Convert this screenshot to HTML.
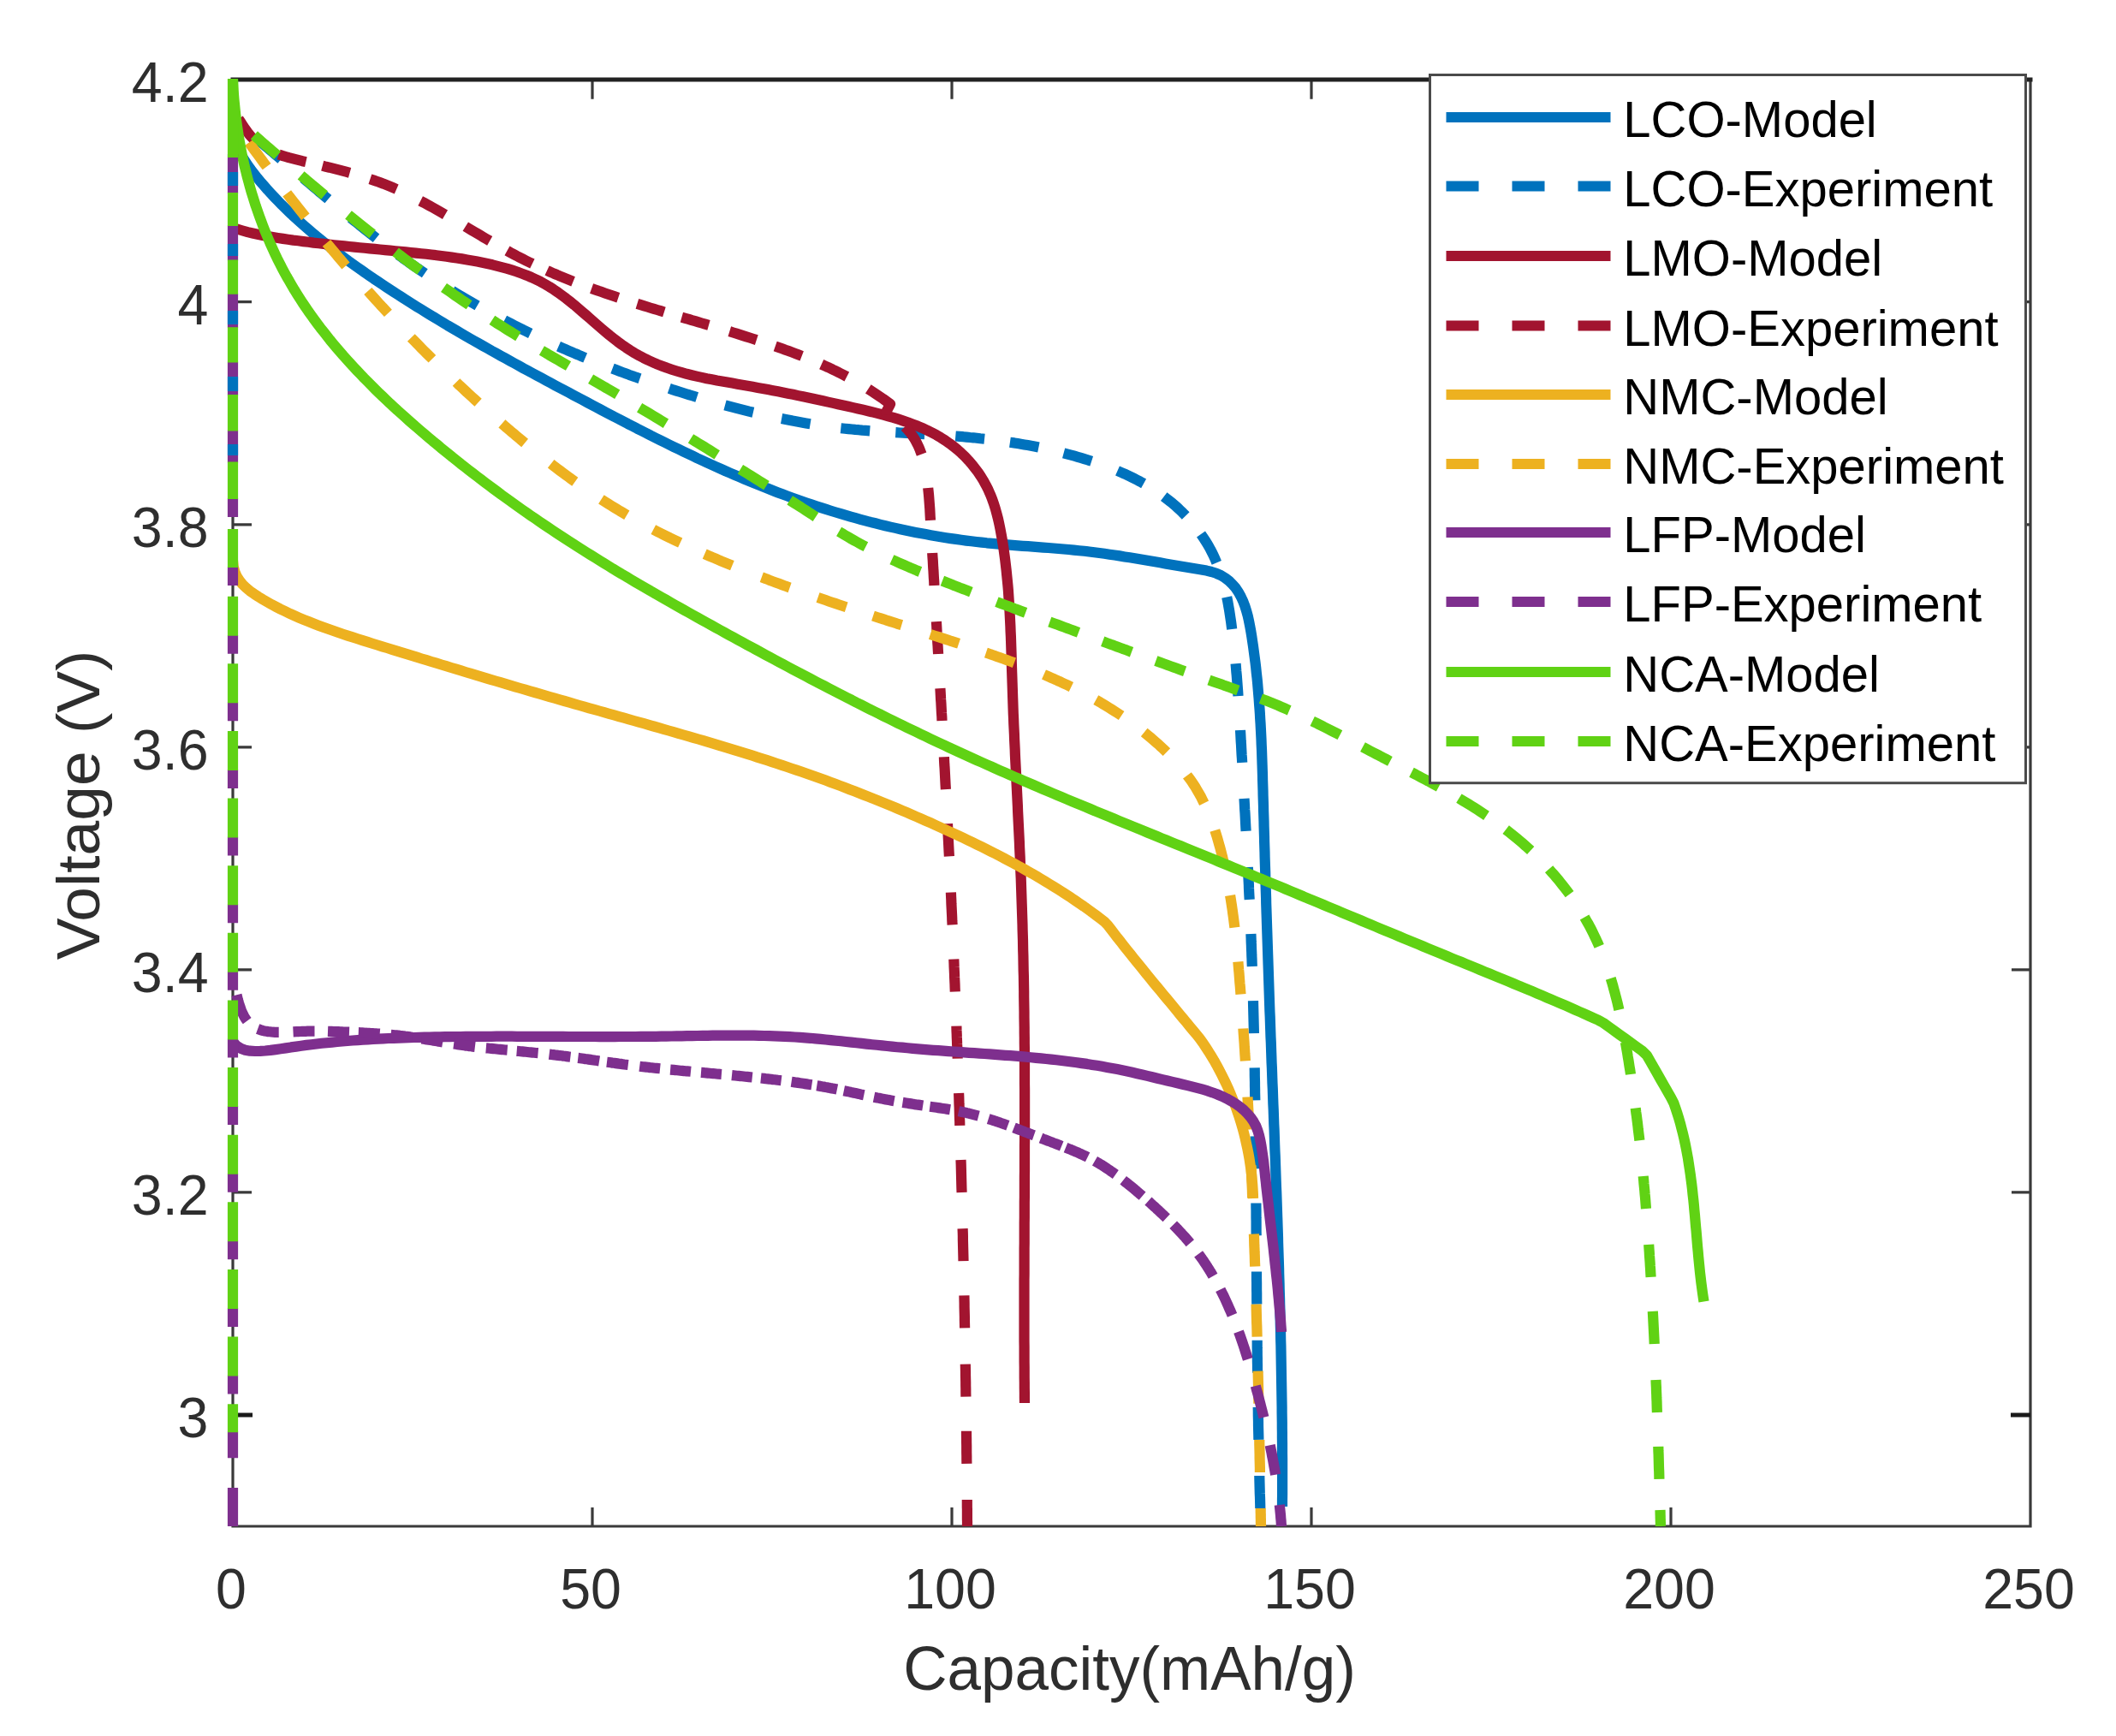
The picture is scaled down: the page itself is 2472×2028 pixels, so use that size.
<!DOCTYPE html>
<html lang="en">
<head>
<meta charset="utf-8">
<title>Discharge curves: model vs experiment</title>
<style>
html,body{margin:0;padding:0;background:#fff;}
body{width:2472px;height:2028px;overflow:hidden;}
svg{display:block;}
text{font-family:'Liberation Sans', Arial, Helvetica, sans-serif;}
.tk{font-size:64.5px;fill:#2e2e2e;}
.lb{font-size:71px;fill:#2e2e2e;}
.lg{font-size:58px;fill:#000;}
.c{fill:none;stroke-width:12.2;stroke-linejoin:round;stroke-linecap:butt;}
</style>
</head>
<body>
<svg width="2472" height="2028" viewBox="0 0 2472 2028">
<rect x="0" y="0" width="2472" height="2028" fill="#ffffff"/>
<g stroke="#3a3a3a" stroke-width="3.2" fill="none" stroke-linecap="square">
<path d="M272.0 92.7V1783.0H2372.0V92.7"/>
<path stroke-linecap="butt" d="M692.0 1783.0v-22M692.0 92.7v23M1112.0 1783.0v-22M1112.0 92.7v23M1532.0 1783.0v-22M1532.0 92.7v23M1952.0 1783.0v-22M1952.0 92.7v23M272.0 1392.9h22M2372.0 1392.9h-22M272.0 1132.9h22M2372.0 1132.9h-22M272.0 872.8h22M2372.0 872.8h-22M272.0 612.8h22M2372.0 612.8h-22M272.0 352.7h22M2372.0 352.7h-22"/>
<path stroke="#222222" stroke-width="5" d="M272.0 93.0H2372.0"/>
<path stroke="#1a1a1a" stroke-width="4.8" stroke-linecap="butt" d="M272.0 1653.0h23M2372.0 1653.0h-23"/>
</g>
<g class="tk" text-anchor="middle">
<text transform="translate(270.0 1878.8) scale(1 1.03)">0</text>
<text transform="translate(690.0 1878.8) scale(1 1.03)">50</text>
<text transform="translate(1110.0 1878.8) scale(1 1.03)">100</text>
<text transform="translate(1530.0 1878.8) scale(1 1.03)">150</text>
<text transform="translate(1950.0 1878.8) scale(1 1.03)">200</text>
<text transform="translate(2370.0 1878.8) scale(1 1.03)">250</text>
</g>
<g class="tk" text-anchor="end">
<text transform="translate(243.5 1679.3) scale(1 1.03)">3</text>
<text transform="translate(243.5 1419.2) scale(1 1.03)">3.2</text>
<text transform="translate(243.5 1159.2) scale(1 1.03)">3.4</text>
<text transform="translate(243.5 899.1) scale(1 1.03)">3.6</text>
<text transform="translate(243.5 639.1) scale(1 1.03)">3.8</text>
<text transform="translate(243.5 379.0) scale(1 1.03)">4</text>
<text transform="translate(243.5 119.0) scale(1 1.03)">4.2</text>
</g>
<text class="lb" text-anchor="middle" transform="translate(1319.5 1973.5) scale(1 1.03)">Capacity(mAh/g)</text>
<text class="lb" text-anchor="middle" transform="translate(115.5 940.5) rotate(-90) scale(1.03 1)">Voltage (V)</text>
<clipPath id="ax"><rect x="259.8" y="90.7" width="2112.2" height="1692.3"/></clipPath>
<g clip-path="url(#ax)">
<path class="c" stroke="#0072BD" d="M272.0 150.0L272.5 156.2L273.6 162.2L275.4 167.8L277.6 173.3L280.3 178.5L283.3 183.6L286.5 188.6L289.8 193.6L293.3 198.4L297.0 203.2L300.7 207.9L304.6 212.6L308.5 217.1L312.5 221.7L316.6 226.1L320.7 230.5L324.9 234.9L329.1 239.2L333.4 243.4L337.7 247.6L342.0 251.7L346.5 255.8L350.9 259.8L355.4 263.8L359.9 267.7L364.5 271.6L369.1 275.5L373.8 279.3L378.4 283.0L383.2 286.8L387.9 290.4L392.7 294.1L397.5 297.7L402.3 301.3L407.1 304.9L412.0 308.4L416.9 311.9L421.8 315.3L426.7 318.8L431.7 322.2L436.6 325.6L441.6 328.9L446.6 332.3L451.6 335.6L456.6 338.9L461.6 342.2L466.7 345.4L471.7 348.7L476.8 351.9L481.9 355.1L487.0 358.3L492.1 361.4L497.2 364.6L502.3 367.7L507.4 370.8L512.5 373.9L517.7 377.0L522.8 380.1L528.0 383.1L533.2 386.1L538.4 389.2L543.5 392.2L548.7 395.2L554.0 398.2L559.2 401.1L564.4 404.1L569.6 407.0L574.8 410.0L580.1 412.9L585.3 415.8L590.6 418.7L595.8 421.6L601.1 424.5L606.4 427.4L611.6 430.3L616.9 433.1L622.2 436.0L627.5 438.9L632.8 441.7L638.1 444.6L643.4 447.4L648.7 450.3L654.0 453.1L659.3 455.9L664.6 458.7L669.9 461.6L675.2 464.4L680.5 467.2L685.8 470.0L691.1 472.9L696.4 475.7L701.8 478.5L707.1 481.3L712.4 484.1L717.7 486.9L723.1 489.6L728.4 492.4L733.7 495.2L739.1 497.9L744.4 500.7L749.8 503.4L755.2 506.1L760.5 508.9L765.9 511.6L771.3 514.2L776.7 516.9L782.1 519.6L787.4 522.2L792.9 524.8L798.3 527.4L803.7 530.0L809.1 532.6L814.5 535.2L820.0 537.7L825.4 540.2L830.9 542.7L836.4 545.2L841.8 547.6L847.3 550.1L852.8 552.5L858.3 554.9L863.8 557.2L869.4 559.6L874.9 561.9L880.4 564.2L886.0 566.4L891.6 568.6L897.2 570.8L902.7 573.0L908.3 575.2L914.0 577.3L919.6 579.4L925.2 581.4L930.9 583.4L936.5 585.4L942.2 587.4L947.9 589.3L953.6 591.2L959.3 593.1L965.0 594.9L970.7 596.7L976.5 598.5L982.2 600.2L988.0 601.9L993.8 603.6L999.5 605.2L1005.3 606.8L1011.1 608.3L1016.9 609.9L1022.7 611.3L1028.6 612.8L1034.4 614.2L1040.2 615.6L1046.1 616.9L1051.9 618.2L1057.8 619.5L1063.7 620.7L1069.6 621.9L1075.5 623.0L1081.4 624.1L1087.3 625.2L1093.2 626.2L1099.1 627.2L1105.1 628.2L1111.0 629.1L1116.9 629.9L1122.9 630.8L1128.9 631.6L1134.8 632.3L1140.8 633.0L1146.8 633.6L1152.8 634.3L1158.8 634.8L1164.8 635.4L1170.8 635.9L1176.8 636.4L1182.8 636.9L1188.8 637.3L1194.8 637.8L1200.8 638.2L1206.8 638.7L1212.8 639.1L1218.8 639.6L1224.8 640.0L1230.8 640.5L1236.8 641.0L1242.7 641.5L1248.7 642.0L1254.7 642.6L1260.6 643.2L1266.6 643.8L1272.5 644.5L1278.5 645.3L1284.4 646.0L1290.3 646.8L1296.2 647.7L1302.1 648.5L1308.0 649.4L1313.9 650.4L1319.8 651.3L1325.8 652.3L1331.7 653.3L1337.6 654.3L1343.5 655.3L1349.5 656.3L1355.4 657.3L1361.4 658.4L1367.3 659.4L1373.3 660.4L1379.3 661.4L1385.4 662.4L1391.4 663.4L1397.5 664.4L1403.5 665.4L1409.5 666.6L1415.3 668.0L1421.0 669.8L1426.3 672.1L1431.2 675.1L1435.8 678.6L1439.9 682.7L1443.7 687.1L1446.9 691.9L1449.7 697.0L1452.2 702.3L1454.3 707.9L1456.1 713.6L1457.7 719.4L1459.0 725.3L1460.2 731.4L1461.3 737.4L1462.3 743.5L1463.2 749.6L1464.1 755.7L1464.9 761.7L1465.7 767.8L1466.5 773.8L1467.2 779.8L1467.8 785.9L1468.5 791.9L1469.1 797.9L1469.6 803.9L1470.1 809.9L1470.6 815.9L1471.0 821.9L1471.5 827.9L1471.9 833.9L1472.2 839.8L1472.6 845.8L1472.9 851.8L1473.2 857.8L1473.5 863.7L1473.7 869.7L1474.0 875.7L1474.2 881.6L1474.4 887.6L1474.6 893.5L1474.8 899.5L1475.0 905.5L1475.1 911.4L1475.3 917.4L1475.5 923.4L1475.6 929.4L1475.8 935.3L1476.0 941.3L1476.1 947.3L1476.3 953.3L1476.5 959.3L1476.6 965.2L1476.8 971.2L1477.0 977.2L1477.1 983.2L1477.3 989.2L1477.5 995.2L1477.6 1001.2L1477.8 1007.2L1478.0 1013.2L1478.2 1019.2L1478.3 1025.2L1478.5 1031.3L1478.7 1037.3L1478.9 1043.3L1479.1 1049.3L1479.2 1055.3L1479.4 1061.3L1479.6 1067.3L1479.8 1073.4L1480.0 1079.4L1480.2 1085.4L1480.4 1091.4L1480.6 1097.4L1480.8 1103.4L1481.0 1109.5L1481.2 1115.5L1481.4 1121.5L1481.6 1127.5L1481.8 1133.5L1482.0 1139.5L1482.2 1145.6L1482.4 1151.6L1482.6 1157.6L1482.8 1163.6L1483.0 1169.6L1483.2 1175.6L1483.4 1181.6L1483.7 1187.6L1483.9 1193.7L1484.1 1199.7L1484.3 1205.7L1484.5 1211.7L1484.8 1217.7L1485.0 1223.7L1485.2 1229.7L1485.4 1235.7L1485.6 1241.7L1485.9 1247.7L1486.1 1253.7L1486.3 1259.7L1486.5 1265.7L1486.8 1271.7L1487.0 1277.7L1487.2 1283.7L1487.4 1289.7L1487.7 1295.7L1487.9 1301.7L1488.1 1307.7L1488.3 1313.7L1488.6 1319.7L1488.8 1325.7L1489.0 1331.7L1489.2 1337.7L1489.4 1343.7L1489.7 1349.7L1489.9 1355.7L1490.1 1361.7L1490.3 1367.7L1490.5 1373.7L1490.7 1379.7L1490.9 1385.7L1491.2 1391.7L1491.4 1397.7L1491.6 1403.7L1491.8 1409.7L1492.0 1415.7L1492.2 1421.7L1492.4 1427.7L1492.6 1433.7L1492.8 1439.7L1493.0 1445.7L1493.1 1451.7L1493.3 1457.7L1493.5 1463.7L1493.7 1469.7L1493.9 1475.7L1494.1 1481.7L1494.2 1487.7L1494.4 1493.7L1494.6 1499.7L1494.7 1505.7L1494.9 1511.7L1495.1 1517.7L1495.2 1523.7L1495.4 1529.7L1495.5 1535.7L1495.7 1541.7L1495.8 1547.7L1496.0 1553.7L1496.1 1559.7L1496.2 1565.7L1496.4 1571.7L1496.5 1577.7L1496.6 1583.7L1496.7 1589.7L1496.8 1595.7L1496.9 1601.7L1497.0 1607.7L1497.1 1613.7L1497.2 1619.7L1497.3 1625.7L1497.4 1631.8L1497.5 1637.8L1497.6 1643.8L1497.6 1649.8L1497.7 1655.8L1497.8 1661.8L1497.8 1667.8L1497.9 1673.8L1497.9 1679.8L1498.0 1685.8L1498.0 1691.8L1498.0 1697.8L1498.1 1703.9L1498.1 1709.9L1498.1 1715.9L1498.1 1721.9L1498.1 1727.9L1498.1 1733.9L1498.1 1739.9L1498.1 1746.0L1498.0 1752.0L1498.0 1758.0L1498.0 1760.0"/>
<path class="c" stroke="#0072BD" stroke-width="11.4" d="M299.4 161.6L303.2 164.8L306.3 167.4L309.3 170.0L312.4 172.5L315.4 175.1L318.5 177.7L321.5 180.2L324.6 182.8L328.4 186.1M354.4 208.1L358.1 211.3L361.2 213.9L364.3 216.5L367.3 219.1L370.4 221.7L373.4 224.3L376.5 226.9L379.6 229.4L383.4 232.6M409.7 254.5L413.6 257.6L416.7 260.1L419.8 262.7L423.0 265.2L426.1 267.7L429.3 270.2L432.4 272.6L435.6 275.1L439.5 278.2M465.2 297.5L469.2 300.4L472.4 302.8L475.7 305.1L479.0 307.4L482.3 309.7L485.5 312.0L488.8 314.2L492.2 316.5L496.3 319.3M528.3 339.8L532.6 342.4L536.0 344.4L539.5 346.5L542.9 348.5L546.4 350.5L549.8 352.5L553.3 354.5L557.6 357.0M589.3 374.2L593.7 376.5L597.3 378.3L600.9 380.1L604.4 381.9L608.0 383.7L611.6 385.5L615.2 387.2L619.7 389.4M652.5 404.6L657.0 406.6L660.7 408.2L664.4 409.8L668.1 411.4L671.8 413.0L675.5 414.5L679.2 416.1L683.7 418.0M715.5 430.5L720.2 432.3L723.9 433.7L727.7 435.1L731.5 436.5L735.2 437.9L739.0 439.2L742.8 440.6L747.5 442.2M781.8 453.8L786.5 455.4L790.3 456.6L794.1 457.8L798.0 459.0L801.8 460.2L805.6 461.4L809.5 462.5L814.2 464.0M847.0 473.3L851.8 474.6L855.7 475.6L859.5 476.6L863.4 477.6L867.3 478.6L871.2 479.6L875.1 480.6L879.9 481.7M913.1 489.1L918.0 490.0L922.0 490.8L925.9 491.6L929.8 492.3L933.8 493.0L937.7 493.7L941.7 494.4L946.6 495.2M982.3 500.2L987.3 500.7L991.3 501.1L995.3 501.5L999.2 501.9L1003.2 502.2L1007.2 502.6L1011.2 502.9L1016.2 503.3M1046.3 505.2L1051.2 505.5L1055.2 505.7L1059.2 506.0L1063.2 506.2L1067.2 506.4L1071.2 506.6L1075.2 506.8L1080.2 507.1M1116.3 509.5L1121.2 509.9L1125.2 510.2L1129.2 510.6L1133.2 511.0L1137.2 511.3L1141.2 511.7L1145.2 512.2L1150.1 512.7M1179.9 516.7L1184.8 517.4L1188.8 518.1L1192.7 518.7L1196.7 519.4L1200.6 520.1L1204.5 520.8L1208.5 521.6L1213.4 522.6M1242.6 529.3L1247.4 530.6L1251.3 531.6L1255.2 532.7L1259.0 533.8L1262.8 534.9L1266.7 536.1L1270.5 537.3L1275.2 538.8M1305.5 550.0L1310.1 552.0L1313.8 553.6L1317.4 555.3L1321.0 557.0L1324.6 558.8L1328.2 560.6L1331.8 562.5L1336.1 564.9M1359.7 580.1L1363.6 583.1L1366.8 585.6L1369.9 588.1L1372.9 590.7L1375.9 593.4L1378.8 596.1L1381.7 598.9L1385.2 602.5M1403.0 624.1L1405.9 628.2L1408.1 631.6L1410.2 635.0L1412.2 638.4L1414.1 641.9L1415.9 645.4L1417.7 649.0L1419.3 652.6L1421.3 657.3M1433.2 697.6L1434.2 702.3L1434.9 706.3L1435.6 710.3L1436.3 714.3L1436.9 718.3L1437.5 722.3L1438.1 726.3L1438.6 730.3L1439.2 735.1M1443.6 775.3L1444.0 780.3L1444.3 784.3L1444.7 788.3L1445.0 792.3L1445.3 796.3L1445.6 800.3L1445.9 804.2L1446.2 808.2L1446.5 813.2M1449.0 853.0L1449.3 858.0L1449.5 862.0L1449.7 866.0L1450.0 870.0L1450.2 874.0L1450.4 878.0L1450.6 881.9L1450.9 885.9L1451.2 890.9M1453.5 932.9L1453.8 937.9L1454.0 941.9L1454.2 945.9L1454.5 949.9L1454.7 953.9L1454.9 957.9L1455.1 961.9L1455.3 965.9L1455.6 970.8M1457.8 1013.0L1458.1 1017.9L1458.3 1021.9L1458.5 1025.9L1458.7 1029.9L1458.9 1033.9L1459.0 1038.0L1459.2 1042.0L1459.4 1046.0L1459.7 1050.9M1461.4 1091.1L1461.6 1096.1L1461.7 1100.1L1461.9 1104.1L1462.0 1108.1L1462.2 1112.1L1462.3 1116.1L1462.5 1120.1L1462.6 1124.1L1462.8 1129.1M1464.0 1169.2L1464.1 1174.2L1464.2 1178.2L1464.3 1182.2L1464.4 1186.2L1464.5 1190.2L1464.6 1194.2L1464.7 1198.2L1464.8 1202.2L1464.9 1207.2M1465.7 1247.3L1465.8 1252.3L1465.8 1256.3L1465.9 1260.3L1466.0 1264.3L1466.0 1268.3L1466.1 1272.3L1466.1 1276.3L1466.2 1280.3L1466.3 1285.3M1466.7 1327.3L1466.8 1332.3L1466.8 1336.3L1466.9 1340.3L1466.9 1344.3L1467.0 1348.3L1467.0 1352.3L1467.0 1356.3L1467.1 1360.4L1467.1 1365.3M1467.4 1405.4L1467.4 1410.4L1467.5 1414.4L1467.5 1418.4L1467.5 1422.4L1467.6 1426.4L1467.6 1430.4L1467.6 1434.4L1467.6 1438.4L1467.7 1443.4M1468.0 1485.6L1468.0 1490.5L1468.0 1494.5L1468.1 1498.6L1468.1 1502.6L1468.1 1506.6L1468.2 1510.6L1468.2 1514.6L1468.2 1518.6L1468.3 1523.6M1468.7 1565.7L1468.7 1570.7L1468.7 1574.7L1468.8 1578.7L1468.8 1582.7L1468.9 1586.7L1468.9 1590.7L1469.0 1594.7L1469.0 1598.7L1469.1 1603.7M1469.7 1643.9L1469.8 1648.8L1469.8 1652.8L1469.9 1656.9L1470.0 1660.9L1470.0 1664.9L1470.1 1668.9L1470.2 1672.9L1470.3 1676.9L1470.4 1681.9M1471.3 1724.0L1471.4 1729.0L1471.5 1733.0L1471.6 1737.0L1471.7 1741.0L1471.8 1745.0L1472.0 1749.0L1472.1 1753.0L1472.2 1757.0L1472.3 1762.0"/>
<path class="c" stroke="#A2142F" d="M272.0 266.0L277.7 267.8L283.5 269.5L289.3 271.1L295.2 272.5L301.0 273.8L306.9 275.0L312.8 276.1L318.7 277.1L324.7 278.0L330.6 278.9L336.5 279.7L342.5 280.6L348.4 281.3L354.4 282.1L360.3 282.8L366.3 283.6L372.3 284.2L378.2 284.9L384.2 285.6L390.1 286.2L396.1 286.8L402.1 287.4L408.0 288.0L414.0 288.6L420.0 289.2L426.0 289.8L431.9 290.4L437.9 290.9L443.9 291.5L449.9 292.1L455.9 292.6L461.9 293.2L467.9 293.8L473.9 294.4L479.9 295.0L485.9 295.6L491.9 296.2L497.9 296.8L503.9 297.5L509.9 298.2L515.9 299.0L521.9 299.7L527.8 300.6L533.8 301.5L539.8 302.4L545.7 303.4L551.7 304.4L557.6 305.5L563.5 306.7L569.4 308.0L575.3 309.3L581.1 310.8L586.9 312.3L592.7 313.9L598.5 315.7L604.1 317.5L609.8 319.6L615.3 321.7L620.8 324.0L626.2 326.5L631.5 329.1L636.7 332.0L641.8 335.0L646.8 338.2L651.8 341.6L656.6 345.1L661.4 348.7L666.1 352.4L670.8 356.2L675.4 360.1L680.0 364.1L684.6 368.0L689.2 372.0L693.7 376.0L698.3 380.0L702.9 384.0L707.5 387.9L712.2 391.8L716.9 395.5L721.7 399.2L726.5 402.7L731.4 406.1L736.4 409.4L741.4 412.5L746.6 415.4L751.9 418.2L757.2 420.8L762.6 423.2L768.1 425.6L773.7 427.7L779.3 429.8L784.9 431.7L790.6 433.5L796.4 435.2L802.2 436.8L808.1 438.2L813.9 439.6L819.8 440.9L825.7 442.2L831.7 443.3L837.6 444.5L843.6 445.5L849.6 446.6L855.5 447.6L861.5 448.7L867.5 449.7L873.4 450.7L879.3 451.8L885.3 452.9L891.2 453.9L897.1 455.1L903.0 456.2L908.9 457.3L914.7 458.5L920.6 459.7L926.5 460.8L932.3 462.1L938.2 463.3L944.0 464.5L949.9 465.8L955.7 467.0L961.5 468.3L967.4 469.6L973.2 470.9L979.1 472.2L985.0 473.5L990.8 474.8L996.7 476.1L1002.6 477.5L1008.5 478.8L1014.4 480.2L1020.3 481.7L1026.1 483.1L1032.0 484.7L1037.9 486.3L1043.7 487.9L1049.5 489.7L1055.2 491.6L1060.9 493.5L1066.6 495.6L1072.2 497.8L1077.8 500.2L1083.3 502.7L1088.7 505.4L1094.0 508.2L1099.2 511.3L1104.2 514.5L1109.1 517.9L1113.9 521.5L1118.5 525.3L1123.0 529.3L1127.3 533.4L1131.4 537.8L1135.3 542.2L1139.0 546.9L1142.6 551.6L1145.9 556.6L1149.0 561.6L1151.8 566.8L1154.5 572.1L1156.9 577.6L1159.1 583.1L1161.1 588.7L1162.9 594.5L1164.5 600.3L1166.0 606.1L1167.3 612.0L1168.5 617.9L1169.6 623.9L1170.7 629.9L1171.7 635.9L1172.6 641.8L1173.4 647.8L1174.2 653.8L1174.9 659.8L1175.6 665.8L1176.2 671.8L1176.8 677.8L1177.4 683.8L1177.9 689.8L1178.3 695.8L1178.7 701.8L1179.1 707.7L1179.5 713.7L1179.8 719.7L1180.1 725.7L1180.4 731.7L1180.6 737.7L1180.9 743.7L1181.1 749.7L1181.3 755.8L1181.5 761.8L1181.7 767.8L1181.8 773.8L1182.0 779.8L1182.2 785.8L1182.4 791.8L1182.6 797.8L1182.8 803.8L1183.0 809.8L1183.2 815.8L1183.4 821.8L1183.6 827.8L1183.8 833.8L1184.1 839.8L1184.3 845.8L1184.6 851.8L1184.9 857.8L1185.1 863.8L1185.4 869.8L1185.7 875.8L1185.9 881.8L1186.2 887.8L1186.5 893.8L1186.8 899.8L1187.1 905.8L1187.4 911.9L1187.7 917.9L1188.0 923.9L1188.3 929.9L1188.6 935.9L1188.9 941.9L1189.1 947.9L1189.4 953.9L1189.7 959.9L1190.0 965.9L1190.3 971.9L1190.6 977.9L1190.9 983.9L1191.1 989.9L1191.4 995.9L1191.7 1001.9L1191.9 1007.9L1192.2 1013.9L1192.4 1019.9L1192.7 1025.9L1192.9 1032.0L1193.1 1038.0L1193.3 1044.0L1193.5 1050.0L1193.7 1056.0L1193.9 1062.0L1194.1 1068.0L1194.3 1074.0L1194.5 1080.0L1194.6 1086.0L1194.8 1092.0L1195.0 1098.0L1195.1 1104.0L1195.2 1110.1L1195.4 1116.1L1195.5 1122.1L1195.6 1128.1L1195.7 1134.1L1195.9 1140.1L1196.0 1146.1L1196.1 1152.1L1196.2 1158.1L1196.2 1164.1L1196.3 1170.1L1196.4 1176.2L1196.5 1182.2L1196.5 1188.2L1196.6 1194.2L1196.7 1200.2L1196.7 1206.2L1196.8 1212.2L1196.8 1218.2L1196.9 1224.2L1196.9 1230.3L1196.9 1236.3L1197.0 1242.3L1197.0 1248.3L1197.0 1254.3L1197.0 1260.3L1197.0 1266.3L1197.1 1272.3L1197.1 1278.3L1197.1 1284.4L1197.1 1290.4L1197.1 1296.4L1197.1 1302.4L1197.1 1308.4L1197.1 1314.4L1197.1 1320.4L1197.1 1326.4L1197.1 1332.4L1197.0 1338.5L1197.0 1344.5L1197.0 1350.5L1197.0 1356.5L1197.0 1362.5L1197.0 1368.5L1196.9 1374.5L1196.9 1380.5L1196.9 1386.6L1196.9 1392.6L1196.9 1398.6L1196.8 1404.6L1196.8 1410.6L1196.8 1416.6L1196.8 1422.6L1196.7 1428.6L1196.7 1434.6L1196.7 1440.7L1196.7 1446.7L1196.7 1452.7L1196.6 1458.7L1196.6 1464.7L1196.6 1470.7L1196.6 1476.7L1196.6 1482.7L1196.6 1488.8L1196.5 1494.8L1196.5 1500.8L1196.5 1506.8L1196.5 1512.8L1196.5 1518.8L1196.5 1524.8L1196.5 1530.8L1196.5 1536.8L1196.5 1542.8L1196.5 1548.9L1196.5 1554.9L1196.5 1560.9L1196.5 1566.9L1196.6 1572.9L1196.6 1578.9L1196.6 1584.9L1196.6 1590.9L1196.7 1596.9L1196.7 1602.9L1196.7 1609.0L1196.8 1615.0L1196.8 1621.0L1196.9 1627.0L1196.9 1633.0L1197.0 1639.0L1197.0 1639.0"/>
<path class="c" stroke="#A2142F" stroke-width="11.6" d="M278.6 138.8L280.2 141.2L281.3 142.9L282.4 144.6L283.5 146.3L284.6 148.0L285.8 149.7L286.9 151.3L288.1 153.0L289.3 154.6L290.5 156.2L291.8 157.8L293.1 159.3L294.4 160.7L296.5 162.9M325.6 180.4L329.7 181.8L333.6 183.0L337.5 184.2L341.4 185.2L345.3 186.2L349.3 187.2L353.3 188.2L357.4 189.1M376.7 193.7L380.9 194.8L384.9 195.7L388.8 196.7L392.7 197.7L396.6 198.7L400.4 199.7L404.3 200.7L408.6 201.9M432.4 209.2L436.7 210.6L440.5 211.9L444.2 213.3L448.0 214.7L451.7 216.2L455.4 217.7L459.0 219.2L463.2 221.0M491.2 234.7L495.1 236.7L498.6 238.6L502.2 240.6L505.7 242.5L509.2 244.5L512.7 246.5L516.2 248.5L520.0 250.7M543.8 264.6L547.5 266.9L551.0 269.0L554.5 271.0L558.0 273.1L561.4 275.1L564.9 277.2L568.4 279.2L572.2 281.4M592.5 292.9L596.4 295.1L600.0 297.0L603.5 298.9L607.1 300.7L610.7 302.5L614.2 304.3L617.8 306.1L621.9 308.1M639.1 316.0L643.2 317.9L646.9 319.5L650.6 321.0L654.3 322.6L658.0 324.1L661.7 325.6L665.4 327.1L669.6 328.8M691.1 336.9L695.3 338.4L699.1 339.8L702.9 341.1L706.7 342.4L710.5 343.7L714.3 345.0L718.1 346.3L722.3 347.7M744.4 354.8L748.6 356.1L752.5 357.3L756.3 358.5L760.1 359.7L764.0 360.9L767.8 362.0L771.7 363.2L775.9 364.5M796.4 370.6L800.6 371.8L804.5 372.9L808.3 374.1L812.2 375.2L816.1 376.4L819.9 377.5L823.8 378.7L828.0 379.9M852.3 387.2L856.5 388.5L860.4 389.7L864.2 390.9L868.0 392.1L871.9 393.3L875.7 394.5L879.5 395.7L883.8 397.1M905.7 404.5L910.0 406.0L913.7 407.3L917.5 408.7L921.3 410.0L925.0 411.4L928.8 412.9L932.5 414.3L936.7 415.9M959.7 425.6L963.8 427.5L967.4 429.1L971.0 430.8L974.6 432.6L978.2 434.3L981.8 436.1L985.3 437.9L989.3 440.0M1014.3 454.4L1023.4 460.3L1031.8 466.0L1040.0 472.0L1038.8 474.5L1037.5 477.0L1036.2 479.5L1035.0 482.0L1035.3 484.5M1057.2 498.5L1060.8 502.3L1063.3 505.3L1065.6 508.5L1067.8 511.7L1069.8 515.1L1071.6 518.6L1073.3 522.1L1074.8 525.8L1076.6 530.7M1084.2 570.0L1084.7 574.9L1085.1 578.9L1085.4 582.9L1085.7 586.9L1086.0 590.9L1086.3 594.9L1086.5 598.9L1086.7 603.0L1087.0 607.9M1089.2 646.0L1089.5 651.0L1089.8 655.0L1090.0 659.0L1090.2 663.0L1090.5 667.0L1090.7 671.0L1090.9 675.0L1091.2 679.0L1091.4 684.0M1093.9 726.1L1094.2 731.0L1094.4 735.0L1094.6 739.1L1094.9 743.1L1095.1 747.1L1095.3 751.1L1095.6 755.1L1095.8 759.1L1096.1 764.0M1098.4 804.2L1098.7 809.1L1098.9 813.1L1099.1 817.1L1099.4 821.1L1099.6 825.1L1099.8 829.1L1100.0 833.1L1100.3 837.1L1100.5 842.1M1102.9 884.2L1103.1 889.2L1103.3 893.2L1103.6 897.2L1103.8 901.2L1104.0 905.2L1104.2 909.2L1104.4 913.2L1104.6 917.2L1104.9 922.2M1107.0 962.3L1107.2 967.3L1107.4 971.3L1107.6 975.3L1107.8 979.3L1108.0 983.3L1108.2 987.3L1108.4 991.3L1108.6 995.3L1108.9 1000.3M1110.9 1042.4L1111.1 1047.4L1111.3 1051.4L1111.4 1055.4L1111.6 1059.4L1111.8 1063.4L1112.0 1067.4L1112.2 1071.4L1112.3 1075.4L1112.6 1080.4M1114.3 1120.6L1114.5 1125.5L1114.6 1129.5L1114.8 1133.5L1115.0 1137.5L1115.1 1141.5L1115.3 1145.6L1115.5 1149.6L1115.6 1153.6L1115.8 1158.5M1117.4 1198.7L1117.5 1203.7L1117.7 1207.7L1117.8 1211.7L1118.0 1215.7L1118.1 1219.7L1118.3 1223.7L1118.4 1227.7L1118.6 1231.7L1118.7 1236.7M1120.1 1276.9L1120.3 1281.8L1120.4 1285.8L1120.5 1289.8L1120.7 1293.8L1120.8 1297.8L1120.9 1301.9L1121.0 1305.9L1121.2 1309.9L1121.3 1314.8M1122.5 1355.0L1122.7 1360.0L1122.8 1364.0L1122.9 1368.0L1123.0 1372.0L1123.1 1376.0L1123.2 1380.0L1123.3 1384.0L1123.4 1388.0L1123.6 1393.0M1124.6 1435.2L1124.8 1440.2L1124.9 1444.2L1124.9 1448.2L1125.0 1452.2L1125.1 1456.2L1125.2 1460.2L1125.3 1464.2L1125.4 1468.2L1125.5 1473.2M1126.4 1513.4L1126.5 1518.3L1126.6 1522.3L1126.6 1526.4L1126.7 1530.4L1126.8 1534.4L1126.9 1538.4L1126.9 1542.4L1127.0 1546.4L1127.1 1551.4M1127.8 1593.6L1127.9 1598.5L1128.0 1602.5L1128.0 1606.6L1128.1 1610.6L1128.2 1614.6L1128.2 1618.6L1128.3 1622.6L1128.3 1626.6L1128.4 1631.6M1129.0 1671.8L1129.0 1676.7L1129.1 1680.7L1129.1 1684.7L1129.2 1688.8L1129.2 1692.8L1129.2 1696.8L1129.3 1700.8L1129.3 1704.8L1129.4 1709.8M1129.8 1752.0L1129.8 1754.9L1129.8 1756.9L1129.8 1758.9L1129.8 1760.9L1129.9 1762.9L1129.9 1765.0L1129.9 1767.0L1129.9 1769.0L1129.9 1771.0L1129.9 1773.0L1129.9 1775.0L1130.0 1777.0L1130.0 1779.0L1130.0 1781.0L1130.0 1783.0"/>
<path class="c" stroke="#EDB120" d="M272.0 655.0L272.7 661.7L274.3 667.8L276.6 673.2L279.7 678.1L283.3 682.6L287.5 686.6L292.0 690.4L296.9 693.8L301.9 697.1L307.0 700.2L312.2 703.2L317.4 706.2L322.7 709.0L328.0 711.7L333.4 714.3L338.8 716.9L344.3 719.4L349.8 721.8L355.3 724.1L360.9 726.3L366.4 728.5L372.1 730.7L377.7 732.8L383.4 734.8L389.1 736.8L394.8 738.8L400.5 740.7L406.2 742.6L412.0 744.4L417.7 746.2L423.5 748.1L429.3 749.9L435.0 751.7L440.8 753.5L446.6 755.3L452.3 757.0L458.1 758.8L463.9 760.6L469.6 762.4L475.4 764.2L481.1 765.9L486.9 767.7L492.6 769.5L498.4 771.2L504.1 773.0L509.9 774.7L515.7 776.5L521.4 778.2L527.2 780.0L532.9 781.7L538.7 783.4L544.4 785.2L550.2 786.9L555.9 788.6L561.7 790.3L567.4 792.1L573.2 793.8L578.9 795.5L584.7 797.2L590.4 798.9L596.2 800.6L601.9 802.3L607.7 804.0L613.5 805.7L619.2 807.4L625.0 809.0L630.7 810.7L636.5 812.4L642.3 814.1L648.0 815.7L653.8 817.4L659.6 819.0L665.4 820.7L671.1 822.3L676.9 824.0L682.7 825.6L688.5 827.3L694.3 828.9L700.0 830.5L705.8 832.2L711.6 833.8L717.4 835.4L723.2 837.1L729.0 838.7L734.8 840.3L740.6 842.0L746.4 843.6L752.2 845.2L757.9 846.9L763.7 848.5L769.5 850.2L775.3 851.8L781.1 853.5L786.9 855.1L792.7 856.8L798.4 858.5L804.2 860.1L810.0 861.8L815.8 863.5L821.5 865.2L827.3 866.9L833.1 868.6L838.8 870.4L844.6 872.1L850.4 873.8L856.1 875.6L861.9 877.4L867.6 879.1L873.3 880.9L879.1 882.7L884.8 884.6L890.5 886.4L896.3 888.2L902.0 890.1L907.7 892.0L913.4 893.9L919.1 895.8L924.8 897.7L930.5 899.6L936.2 901.6L941.8 903.6L947.5 905.6L953.2 907.6L958.8 909.6L964.5 911.6L970.1 913.7L975.8 915.8L981.4 917.9L987.0 920.0L992.6 922.2L998.2 924.3L1003.8 926.5L1009.4 928.7L1015.0 930.9L1020.6 933.1L1026.2 935.4L1031.7 937.6L1037.3 939.9L1042.8 942.2L1048.4 944.5L1053.9 946.8L1059.5 949.2L1065.0 951.6L1070.5 954.0L1076.0 956.4L1081.5 958.8L1087.0 961.2L1092.5 963.7L1098.0 966.2L1103.4 968.7L1108.9 971.2L1114.4 973.7L1119.8 976.3L1125.2 978.8L1130.7 981.4L1136.1 984.0L1141.5 986.7L1146.9 989.3L1152.3 992.0L1157.6 994.7L1163.0 997.4L1168.3 1000.2L1173.7 1003.0L1179.0 1005.8L1184.3 1008.6L1189.5 1011.5L1194.8 1014.4L1200.0 1017.4L1205.3 1020.3L1210.5 1023.3L1215.6 1026.4L1220.8 1029.5L1225.9 1032.6L1231.0 1035.7L1236.1 1038.9L1241.2 1042.1L1246.2 1045.4L1251.3 1048.7L1256.3 1052.1L1261.2 1055.5L1266.2 1058.9L1271.1 1062.4L1275.9 1065.9L1280.8 1069.5L1285.6 1073.1L1290.4 1076.8L1294.5 1081.2L1298.2 1086.0L1301.9 1090.9L1305.6 1095.7L1309.4 1100.4L1313.1 1105.2L1316.9 1110.0L1320.7 1114.7L1324.5 1119.5L1328.3 1124.2L1332.2 1128.9L1336.0 1133.6L1339.8 1138.4L1343.7 1143.1L1347.5 1147.8L1351.4 1152.5L1355.3 1157.2L1359.1 1161.8L1363.0 1166.5L1366.9 1171.2L1370.8 1175.9L1374.7 1180.6L1378.5 1185.3L1382.4 1190.0L1386.3 1194.6L1390.1 1199.3L1394.0 1204.0L1397.9 1208.7L1401.7 1213.4L1405.3 1218.4L1408.7 1223.5L1412.0 1228.6L1415.2 1233.8L1418.4 1239.1L1421.4 1244.4L1424.3 1249.8L1427.1 1255.2L1429.8 1260.7L1432.5 1266.2L1435.0 1271.7L1437.4 1277.4L1439.7 1283.0L1441.9 1288.7L1444.1 1294.4L1446.1 1300.2L1448.0 1305.9L1449.8 1311.8L1451.5 1317.6L1453.1 1323.5L1454.6 1329.4L1455.9 1335.4L1457.2 1341.3L1458.4 1347.3L1459.5 1353.3L1460.4 1359.4L1461.3 1365.4L1462.0 1371.5L1462.6 1377.6L1463.2 1383.7L1463.6 1389.8L1463.9 1395.9L1464.0 1400.0"/>
<path class="c" stroke="#EDB120" stroke-width="11.4" d="M290.9 166.5L294.1 170.9L296.4 174.1L298.8 177.4L301.2 180.6L303.5 183.8L305.9 187.0L308.3 190.3L311.6 194.7M335.2 225.8L338.5 230.2L341.0 233.3L343.5 236.5L345.9 239.6L348.4 242.8L350.9 245.9L353.4 249.1L356.8 253.4M381.5 283.8L385.0 288.0L387.5 291.1L390.1 294.1L392.7 297.2L395.3 300.3L397.9 303.3L400.5 306.4L404.0 310.5M429.8 340.0L433.5 344.1L436.2 347.1L438.9 350.1L441.5 353.0L444.2 356.0L447.0 358.9L449.7 361.9L453.4 365.9M480.3 394.4L484.1 398.3L486.9 401.1L489.7 404.0L492.5 406.9L495.3 409.7L498.2 412.6L501.0 415.4L504.9 419.3M533.0 446.5L536.9 450.3L539.9 453.0L542.8 455.7L545.7 458.5L548.7 461.2L551.6 463.9L554.6 466.6L558.6 470.3M586.4 494.9L590.5 498.5L593.6 501.1L596.6 503.7L599.7 506.2L602.7 508.8L605.8 511.4L608.9 514.0L613.1 517.5M643.7 541.8L648.0 545.2L651.2 547.6L654.4 550.0L657.6 552.4L660.8 554.7L664.1 557.1L667.3 559.5L671.8 562.7M702.4 583.4L707.1 586.4L710.5 588.5L713.9 590.6L717.3 592.7L720.7 594.8L724.1 596.9L727.6 598.9L732.3 601.7M763.3 618.6L768.1 621.1L771.7 622.9L775.3 624.7L778.9 626.5L782.5 628.3L786.1 630.0L789.8 631.8L794.7 634.1M823.2 647.1L828.2 649.3L831.9 650.9L835.6 652.4L839.2 654.0L842.9 655.6L846.6 657.1L850.3 658.6L855.4 660.7M889.8 674.3L895.0 676.2L898.7 677.7L902.5 679.1L906.2 680.4L910.0 681.8L913.7 683.2L917.4 684.6L922.6 686.4M955.5 698.0L960.7 699.8L964.5 701.1L968.3 702.4L972.1 703.7L975.8 704.9L979.6 706.2L983.4 707.5L988.7 709.2M1020.0 719.5L1025.2 721.2L1029.0 722.4L1032.8 723.6L1036.6 724.9L1040.4 726.1L1044.2 727.3L1048.0 728.6L1053.3 730.2M1086.8 741.0L1092.0 742.7L1095.8 743.9L1099.6 745.1L1103.5 746.4L1107.3 747.6L1111.1 748.9L1115.0 750.1L1120.1 751.8M1151.9 762.5L1157.0 764.2L1160.8 765.6L1164.6 766.9L1168.4 768.2L1172.2 769.6L1176.0 771.0L1179.8 772.4L1184.9 774.3M1219.5 788.0L1224.5 790.2L1228.2 791.8L1231.9 793.4L1235.5 795.1L1239.2 796.7L1242.8 798.4L1246.4 800.1L1251.4 802.5M1280.3 817.7L1285.2 820.4L1288.6 822.5L1292.0 824.5L1295.4 826.6L1298.8 828.7L1302.1 830.8L1305.5 833.0L1310.1 836.0M1336.7 855.5L1340.9 858.9L1344.0 861.5L1347.0 864.1L1350.1 866.8L1353.1 869.4L1356.1 872.2L1359.0 874.9L1362.9 878.7M1386.9 905.8L1389.8 909.7L1392.2 913.0L1394.4 916.4L1396.6 919.7L1398.6 923.2L1400.6 926.6L1402.6 930.1L1404.4 933.7L1406.6 938.2M1419.3 970.0L1420.8 974.7L1422.0 978.5L1423.1 982.4L1424.2 986.3L1425.3 990.2L1426.3 994.0L1427.3 997.9L1428.3 1001.8L1429.4 1006.6M1437.1 1046.0L1437.9 1050.9L1438.5 1054.9L1439.1 1058.8L1439.7 1062.8L1440.2 1066.8L1440.8 1070.7L1441.3 1074.7L1441.8 1078.7L1442.4 1083.6M1446.4 1123.6L1446.8 1128.5L1447.1 1132.5L1447.5 1136.5L1447.8 1140.5L1448.1 1144.5L1448.4 1148.5L1448.8 1152.5L1449.1 1156.5L1449.5 1161.4M1452.4 1201.5L1452.7 1206.5L1453.0 1210.5L1453.3 1214.5L1453.6 1218.5L1453.8 1222.5L1454.1 1226.5L1454.3 1230.5L1454.6 1234.5L1454.9 1239.4M1457.5 1281.5L1457.7 1286.5L1458.0 1290.5L1458.2 1294.5L1458.4 1298.5L1458.6 1302.5L1458.8 1306.5L1459.1 1310.5L1459.3 1314.5L1459.5 1319.5M1461.6 1361.5L1461.8 1366.5L1462.0 1370.5L1462.2 1374.5L1462.3 1378.5L1462.5 1382.5L1462.7 1386.5L1462.9 1390.5L1463.0 1394.5L1463.2 1399.5M1464.9 1441.6L1465.1 1446.6L1465.2 1450.6L1465.3 1454.6L1465.5 1458.6L1465.6 1462.6L1465.8 1466.6L1465.9 1470.6L1466.0 1474.6L1466.2 1479.6M1467.6 1523.7L1467.7 1528.6L1467.8 1532.6L1467.9 1536.6L1468.0 1540.6L1468.1 1544.6L1468.3 1548.7L1468.4 1552.7L1468.5 1556.7L1468.6 1561.6M1469.6 1601.7L1469.7 1606.7L1469.8 1610.7L1469.9 1614.7L1470.0 1618.7L1470.1 1622.7L1470.1 1626.7L1470.2 1630.8L1470.3 1634.8L1470.4 1639.7M1471.3 1681.9L1471.3 1686.8L1471.4 1690.8L1471.5 1694.8L1471.6 1698.9L1471.6 1702.9L1471.7 1706.9L1471.8 1710.9L1471.9 1714.9L1471.9 1719.9M1472.7 1762.0L1472.7 1765.0L1472.7 1767.0L1472.8 1769.0L1472.8 1771.0L1472.8 1773.0L1472.9 1775.0L1472.9 1777.0L1472.9 1779.0L1473.0 1781.0L1473.0 1783.0"/>
<path class="c" stroke="#7E2F8E" d="M272.0 1217.0L276.3 1221.6L281.1 1224.7L286.5 1226.7L292.1 1227.7L298.0 1228.0L304.0 1227.9L309.9 1227.5L315.9 1226.9L321.9 1226.1L327.9 1225.3L333.9 1224.4L339.9 1223.4L345.9 1222.6L351.9 1221.7L357.9 1220.9L363.8 1220.2L369.8 1219.5L375.8 1218.8L381.8 1218.2L387.8 1217.6L393.8 1217.0L399.8 1216.5L405.8 1216.0L411.8 1215.5L417.8 1215.1L423.8 1214.7L429.8 1214.3L435.8 1213.9L441.8 1213.6L447.8 1213.3L453.8 1213.0L459.8 1212.8L465.8 1212.6L471.8 1212.3L477.8 1212.1L483.8 1212.0L489.8 1211.8L495.8 1211.7L501.8 1211.5L507.8 1211.4L513.8 1211.3L519.8 1211.2L525.8 1211.1L531.9 1211.0L537.9 1211.0L543.9 1210.9L549.9 1210.9L555.9 1210.8L561.9 1210.8L567.9 1210.8L573.9 1210.8L579.9 1210.7L585.9 1210.7L592.0 1210.7L598.0 1210.7L604.0 1210.8L610.0 1210.8L616.0 1210.8L622.0 1210.8L628.0 1210.8L634.1 1210.8L640.1 1210.9L646.1 1210.9L652.1 1210.9L658.1 1210.9L664.1 1211.0L670.1 1211.0L676.2 1211.0L682.2 1211.0L688.2 1211.0L694.2 1211.0L700.2 1211.1L706.2 1211.1L712.3 1211.1L718.3 1211.1L724.3 1211.0L730.3 1211.0L736.3 1211.0L742.3 1211.0L748.4 1210.9L754.4 1210.9L760.4 1210.8L766.4 1210.8L772.4 1210.7L778.4 1210.6L784.5 1210.5L790.5 1210.4L796.5 1210.3L802.5 1210.2L808.5 1210.1L814.5 1210.0L820.6 1209.9L826.6 1209.8L832.6 1209.7L838.6 1209.7L844.6 1209.6L850.6 1209.6L856.6 1209.6L862.6 1209.6L868.7 1209.6L874.7 1209.6L880.7 1209.7L886.7 1209.8L892.7 1210.0L898.7 1210.1L904.7 1210.3L910.7 1210.6L916.7 1210.8L922.7 1211.2L928.7 1211.5L934.7 1211.9L940.7 1212.4L946.7 1212.8L952.7 1213.4L958.7 1213.9L964.7 1214.5L970.7 1215.1L976.7 1215.7L982.6 1216.3L988.6 1217.0L994.6 1217.6L1000.6 1218.3L1006.6 1218.9L1012.5 1219.6L1018.5 1220.2L1024.5 1220.8L1030.4 1221.4L1036.4 1222.0L1042.3 1222.6L1048.3 1223.2L1054.3 1223.7L1060.2 1224.3L1066.2 1224.8L1072.2 1225.3L1078.2 1225.8L1084.1 1226.3L1090.1 1226.8L1096.1 1227.2L1102.1 1227.7L1108.1 1228.1L1114.1 1228.5L1120.1 1228.9L1126.1 1229.3L1132.2 1229.8L1138.2 1230.2L1144.2 1230.6L1150.2 1231.0L1156.2 1231.4L1162.2 1231.9L1168.2 1232.3L1174.2 1232.8L1180.2 1233.2L1186.2 1233.7L1192.3 1234.2L1198.3 1234.7L1204.2 1235.3L1210.2 1235.8L1216.2 1236.4L1222.2 1237.0L1228.2 1237.6L1234.2 1238.3L1240.1 1239.0L1246.1 1239.7L1252.1 1240.5L1258.0 1241.2L1263.9 1242.1L1269.9 1242.9L1275.8 1243.9L1281.7 1244.8L1287.6 1245.8L1293.5 1246.9L1299.4 1248.0L1305.3 1249.1L1311.1 1250.3L1317.0 1251.5L1322.8 1252.8L1328.7 1254.2L1334.5 1255.5L1340.4 1256.9L1346.2 1258.3L1352.1 1259.7L1357.9 1261.1L1363.8 1262.5L1369.7 1263.9L1375.6 1265.3L1381.6 1266.7L1387.5 1268.1L1393.4 1269.6L1399.3 1271.1L1405.1 1272.7L1410.9 1274.4L1416.7 1276.4L1422.3 1278.5L1427.8 1280.8L1433.2 1283.4L1438.4 1286.3L1443.5 1289.4L1448.4 1292.9L1453.1 1296.8L1457.3 1301.0L1461.2 1305.5L1464.5 1310.3L1467.3 1315.5L1469.4 1321.0L1471.1 1326.7L1472.4 1332.6L1473.5 1338.6L1474.4 1344.6L1475.3 1350.6L1476.1 1356.6L1476.8 1362.6L1477.5 1368.6L1478.1 1374.6L1478.8 1380.6L1479.4 1386.6L1480.1 1392.6L1480.8 1398.6L1481.5 1404.6L1482.2 1410.6L1482.8 1416.5L1483.5 1422.5L1484.2 1428.5L1484.9 1434.4L1485.6 1440.4L1486.3 1446.4L1487.0 1452.3L1487.7 1458.3L1488.3 1464.2L1489.0 1470.2L1489.6 1476.2L1490.3 1482.1L1490.9 1488.1L1491.6 1494.1L1492.2 1500.0L1492.8 1506.0L1493.3 1512.0L1493.9 1518.0L1494.4 1524.0L1495.0 1530.0L1495.5 1536.0L1496.0 1542.0L1496.4 1548.0L1496.9 1554.0L1497.0 1556.0"/>
<path class="c" stroke="#7E2F8E" stroke-width="11.0" d="M276.5 1162.2L277.9 1167.9L279.1 1172.0L280.4 1176.1L281.8 1180.0L283.4 1183.8L285.2 1187.3L287.2 1190.6L288.7 1192.6M301.1 1202.0L304.1 1203.1L305.8 1203.6L307.6 1204.1L309.4 1204.5L311.3 1204.8L313.2 1205.1L315.1 1205.3L317.1 1205.5L319.1 1205.7L321.1 1205.8L323.2 1205.9L325.7 1205.9M342.5 1205.4L346.5 1205.2L348.6 1205.1L350.7 1205.0L352.9 1204.9L355.0 1204.8L357.1 1204.8L359.2 1204.7L361.2 1204.7L363.3 1204.6L365.4 1204.6L367.5 1204.6M383.0 1204.8L385.6 1204.9L387.5 1204.9L389.5 1205.0L391.5 1205.1L393.5 1205.1L395.5 1205.2L397.5 1205.3L399.4 1205.4L401.4 1205.5L403.4 1205.5L405.4 1205.6L408.0 1205.7M418.8 1206.2L421.3 1206.3L423.3 1206.4L425.3 1206.5L427.3 1206.7L429.3 1206.8L431.3 1206.9L433.3 1207.0L435.3 1207.1L437.2 1207.3L439.2 1207.4L441.2 1207.5L443.7 1207.7M456.7 1208.8L459.2 1209.0L461.2 1209.2L463.2 1209.4L465.2 1209.6L467.1 1209.9L469.1 1210.1L471.1 1210.3L473.1 1210.6L475.1 1210.8L477.1 1211.1L479.1 1211.4L481.5 1211.7M492.5 1213.4L494.9 1213.7L496.9 1214.1L498.9 1214.4L500.9 1214.7L502.9 1215.0L504.8 1215.3L506.8 1215.7L508.8 1216.0L510.8 1216.3L512.7 1216.7L514.7 1217.0L517.2 1217.4M530.1 1219.5L532.5 1219.8L534.5 1220.1L536.5 1220.4L538.5 1220.7L540.5 1221.0L542.5 1221.3L544.4 1221.6L546.4 1221.8L548.4 1222.1L550.4 1222.3L552.4 1222.6L554.9 1222.9M567.8 1224.3L570.3 1224.5L572.3 1224.7L574.2 1224.9L576.2 1225.1L578.2 1225.3L580.2 1225.5L582.2 1225.7L584.2 1225.9L586.2 1226.1L588.2 1226.3L590.2 1226.5L592.7 1226.7M603.7 1227.8L606.2 1228.0L608.1 1228.2L610.1 1228.4L612.1 1228.6L614.1 1228.8L616.1 1229.0L618.1 1229.2L620.1 1229.4L622.1 1229.6L624.1 1229.8L626.1 1230.0L628.6 1230.2M641.6 1231.6L644.0 1231.9L646.0 1232.1L648.0 1232.4L650.0 1232.6L652.0 1232.9L654.0 1233.1L656.0 1233.3L658.0 1233.6L660.0 1233.8L661.9 1234.1L663.9 1234.4L666.4 1234.7M675.3 1235.9L677.8 1236.2L679.8 1236.5L681.8 1236.8L683.8 1237.1L685.7 1237.3L687.7 1237.6L689.7 1237.9L691.7 1238.2L693.7 1238.5L695.6 1238.8L697.6 1239.0L700.1 1239.4M709.0 1240.7L711.5 1241.0L713.5 1241.3L715.4 1241.6L717.4 1241.8L719.4 1242.1L721.4 1242.4L723.4 1242.7L725.4 1242.9L727.3 1243.2L729.3 1243.5L731.3 1243.7L733.8 1244.0M747.2 1245.7L751.2 1246.2L753.2 1246.4L755.1 1246.6L757.1 1246.8L759.1 1247.1L761.1 1247.3L763.1 1247.5L765.1 1247.7L767.1 1247.9L771.1 1248.3M783.1 1249.6L787.0 1249.9L789.0 1250.1L791.0 1250.3L793.0 1250.5L795.0 1250.7L797.0 1250.9L799.0 1251.1L801.0 1251.3L803.0 1251.4L807.0 1251.8M819.0 1252.9L823.0 1253.2L825.0 1253.4L827.0 1253.6L829.0 1253.8L831.0 1254.0L833.0 1254.1L835.0 1254.3L837.0 1254.5L839.0 1254.7L842.9 1255.0M855.0 1256.1L858.9 1256.5L860.9 1256.7L862.9 1256.9L864.9 1257.1L866.9 1257.3L868.9 1257.5L870.9 1257.7L872.9 1257.9L874.9 1258.1L878.8 1258.5M888.9 1259.5L892.8 1259.9L894.8 1260.2L896.8 1260.4L898.8 1260.6L900.8 1260.8L902.8 1261.1L904.8 1261.3L906.7 1261.5L908.7 1261.8L912.7 1262.3M924.6 1263.8L928.6 1264.4L930.6 1264.6L932.6 1264.9L934.5 1265.2L936.5 1265.5L938.5 1265.8L940.5 1266.1L942.4 1266.4L944.4 1266.7L948.4 1267.3M954.3 1268.3L958.2 1268.9L960.2 1269.3L962.2 1269.6L964.2 1270.0L966.1 1270.3L968.1 1270.7L970.1 1271.1L972.0 1271.4L974.0 1271.8L977.9 1272.6M985.8 1274.2L989.7 1275.0L991.6 1275.4L993.6 1275.8L995.6 1276.3L997.5 1276.7L999.5 1277.1L1001.4 1277.5L1003.4 1277.9L1005.4 1278.4L1009.3 1279.2M1021.0 1281.7L1025.0 1282.5L1026.9 1282.8L1028.9 1283.2L1030.8 1283.6L1032.8 1284.0L1034.8 1284.4L1036.7 1284.7L1038.7 1285.1L1040.7 1285.5L1044.6 1286.2M1054.5 1287.9L1058.4 1288.5L1060.4 1288.8L1062.4 1289.1L1064.4 1289.4L1066.3 1289.7L1068.3 1290.1L1070.3 1290.4L1072.3 1290.6L1074.3 1290.9L1078.2 1291.5M1086.3 1292.7L1090.2 1293.2L1092.2 1293.5L1094.2 1293.8L1096.1 1294.1L1098.1 1294.4L1100.1 1294.7L1102.1 1295.0L1104.1 1295.3L1106.1 1295.6L1110.0 1296.2M1119.9 1298.1L1121.8 1298.5L1123.8 1298.9L1125.7 1299.3L1127.7 1299.7L1129.6 1300.2L1131.6 1300.6L1133.5 1301.1L1135.5 1301.6L1137.4 1302.1L1139.3 1302.6L1141.3 1303.1L1143.2 1303.6M1154.7 1307.1L1158.5 1308.3L1160.4 1308.9L1162.3 1309.5L1164.2 1310.1L1166.1 1310.8L1168.0 1311.4L1169.9 1312.1L1171.8 1312.8L1173.6 1313.4L1177.4 1314.8M1184.5 1317.4L1186.8 1318.3L1188.7 1319.0L1190.6 1319.7L1192.5 1320.4L1194.3 1321.1L1196.2 1321.8L1198.1 1322.6L1200.0 1323.3L1201.8 1324.0L1203.7 1324.7L1205.6 1325.5L1207.9 1326.3M1216.0 1329.5L1218.7 1330.6L1220.6 1331.3L1222.5 1332.0L1224.3 1332.7L1226.2 1333.4L1228.1 1334.1L1230.0 1334.9L1231.9 1335.6L1233.7 1336.3L1235.6 1337.0L1237.5 1337.7L1240.2 1338.8M1245.0 1340.6L1248.7 1342.1L1250.6 1342.8L1252.4 1343.6L1254.3 1344.4L1256.1 1345.2L1257.9 1345.9L1259.8 1346.7L1261.6 1347.6L1263.4 1348.4L1265.2 1349.2L1267.0 1350.1L1268.8 1350.9L1270.6 1351.8M1279.0 1356.3L1281.1 1357.5L1282.9 1358.5L1284.6 1359.5L1286.3 1360.6L1288.0 1361.6L1289.7 1362.7L1291.4 1363.8L1293.0 1364.9L1294.7 1366.0L1296.4 1367.1L1298.0 1368.3L1299.7 1369.4L1301.3 1370.6L1303.3 1372.0M1312.2 1378.8L1314.1 1380.3L1315.7 1381.5L1317.3 1382.8L1318.8 1384.0L1320.4 1385.3L1322.0 1386.6L1323.5 1387.8L1325.1 1389.1L1326.6 1390.4L1328.1 1391.7L1329.7 1393.0L1331.2 1394.3L1332.7 1395.6L1334.6 1397.2M1341.4 1403.1L1343.3 1404.8L1344.7 1406.1L1346.2 1407.5L1347.7 1408.8L1349.2 1410.2L1350.7 1411.5L1352.1 1412.9L1353.6 1414.2L1355.1 1415.6L1356.5 1417.0L1358.0 1418.4L1359.5 1419.8L1360.9 1421.1L1362.7 1422.8M1370.7 1430.8L1372.4 1432.5L1373.8 1433.9L1375.2 1435.4L1376.6 1436.8L1378.0 1438.3L1379.4 1439.8L1380.7 1441.3L1382.1 1442.7L1383.4 1444.2L1384.8 1445.7L1386.1 1447.3L1387.4 1448.8L1388.7 1450.3L1390.3 1452.2M1400.1 1464.8L1402.2 1467.7L1403.4 1469.3L1404.5 1470.9L1405.7 1472.6L1406.8 1474.2L1407.9 1475.9L1409.0 1477.5L1410.1 1479.2L1411.1 1480.9L1412.2 1482.5L1413.2 1484.2L1414.3 1485.9L1415.3 1487.6L1417.1 1490.7M1425.7 1506.3L1427.7 1510.4L1429.5 1513.9L1431.2 1517.5L1432.9 1521.2L1434.5 1524.8L1436.1 1528.5L1437.7 1532.1L1439.5 1536.3M1447.0 1555.6L1448.7 1560.2L1450.0 1564.0L1451.3 1567.8L1452.6 1571.6L1453.9 1575.5L1455.1 1579.3L1456.3 1583.1L1457.8 1587.8M1466.8 1619.0L1468.1 1623.8L1469.2 1627.7L1470.2 1631.5L1471.2 1635.4L1472.2 1639.3L1473.2 1643.2L1474.2 1647.0L1475.2 1650.9L1476.4 1655.8M1483.7 1688.3L1484.8 1693.7L1485.6 1697.6L1486.3 1701.6L1487.1 1705.5L1487.8 1709.4L1488.5 1713.3L1489.2 1717.2L1490.1 1722.7M1494.8 1758.0L1495.1 1760.9L1495.3 1762.9L1495.5 1764.9L1495.7 1766.9L1495.9 1768.9L1496.1 1770.9L1496.2 1772.9L1496.4 1774.9L1496.6 1776.9L1496.7 1779.0L1496.9 1781.0L1497.0 1783.0"/>
<path class="c" stroke="#60D214" d="M272.0 93.0L272.3 99.0L272.6 104.9L273.0 110.9L273.5 116.9L274.1 122.9L274.7 128.8L275.3 134.8L276.1 140.8L276.9 146.8L277.8 152.7L278.7 158.7L279.7 164.6L280.8 170.6L281.9 176.5L283.1 182.4L284.4 188.3L285.7 194.2L287.2 200.1L288.6 205.9L290.2 211.7L291.8 217.6L293.4 223.4L295.2 229.1L297.0 234.9L298.8 240.6L300.8 246.3L302.8 252.0L304.9 257.7L307.0 263.3L309.2 268.9L311.5 274.5L313.8 280.0L316.2 285.5L318.7 291.0L321.2 296.5L323.8 301.9L326.5 307.2L329.2 312.6L332.0 317.8L334.9 323.1L337.9 328.3L340.9 333.5L343.9 338.6L347.1 343.7L350.3 348.7L353.5 353.7L356.9 358.7L360.2 363.6L363.7 368.5L367.2 373.3L370.7 378.1L374.3 382.9L378.0 387.6L381.7 392.3L385.4 397.0L389.2 401.6L393.1 406.2L397.0 410.7L400.9 415.3L404.9 419.8L408.9 424.2L413.0 428.6L417.1 433.0L421.3 437.4L425.4 441.7L429.7 446.0L433.9 450.3L438.2 454.6L442.5 458.8L446.9 463.0L451.2 467.1L455.6 471.3L460.1 475.4L464.5 479.5L469.0 483.5L473.5 487.6L478.0 491.6L482.6 495.6L487.1 499.5L491.7 503.5L496.3 507.4L500.9 511.3L505.5 515.2L510.2 519.0L514.8 522.9L519.5 526.7L524.2 530.5L528.8 534.3L533.5 538.0L538.2 541.8L543.0 545.5L547.7 549.2L552.5 552.9L557.2 556.5L562.0 560.2L566.8 563.8L571.6 567.4L576.4 571.0L581.2 574.5L586.0 578.1L590.9 581.6L595.8 585.1L600.6 588.6L605.5 592.1L610.4 595.6L615.3 599.0L620.2 602.4L625.2 605.8L630.1 609.2L635.1 612.6L640.0 615.9L645.0 619.3L650.0 622.6L655.0 625.9L660.0 629.2L665.0 632.4L670.1 635.7L675.1 638.9L680.2 642.1L685.3 645.3L690.4 648.5L695.5 651.7L700.6 654.9L705.7 658.0L710.8 661.1L715.9 664.3L721.1 667.4L726.2 670.5L731.4 673.5L736.5 676.6L741.7 679.7L746.9 682.7L752.1 685.7L757.3 688.8L762.5 691.8L767.7 694.8L772.9 697.8L778.1 700.7L783.4 703.7L788.6 706.7L793.8 709.6L799.1 712.6L804.3 715.5L809.6 718.5L814.8 721.4L820.1 724.3L825.4 727.3L830.6 730.2L835.9 733.1L841.2 736.0L846.4 738.9L851.7 741.8L857.0 744.7L862.3 747.6L867.5 750.4L872.8 753.3L878.1 756.2L883.4 759.0L888.7 761.9L894.0 764.8L899.3 767.6L904.6 770.5L909.9 773.3L915.2 776.1L920.5 779.0L925.8 781.8L931.1 784.6L936.4 787.4L941.7 790.2L947.0 793.0L952.4 795.8L957.7 798.6L963.0 801.3L968.3 804.1L973.7 806.9L979.0 809.6L984.4 812.4L989.7 815.1L995.1 817.8L1000.4 820.6L1005.8 823.3L1011.1 826.0L1016.5 828.7L1021.9 831.4L1027.3 834.0L1032.6 836.7L1038.0 839.4L1043.4 842.0L1048.8 844.7L1054.2 847.3L1059.6 849.9L1065.0 852.5L1070.4 855.1L1075.8 857.7L1081.3 860.3L1086.7 862.9L1092.1 865.5L1097.5 868.0L1103.0 870.6L1108.4 873.1L1113.9 875.6L1119.3 878.1L1124.8 880.6L1130.3 883.1L1135.7 885.6L1141.2 888.1L1146.7 890.5L1152.2 893.0L1157.7 895.4L1163.1 897.9L1168.6 900.3L1174.1 902.7L1179.6 905.1L1185.1 907.5L1190.7 909.9L1196.2 912.3L1201.7 914.7L1207.2 917.0L1212.7 919.4L1218.3 921.8L1223.8 924.1L1229.3 926.5L1234.9 928.8L1240.4 931.1L1245.9 933.5L1251.5 935.8L1257.0 938.1L1262.6 940.4L1268.1 942.7L1273.7 945.0L1279.2 947.4L1284.8 949.6L1290.3 951.9L1295.9 954.2L1301.5 956.5L1307.0 958.8L1312.6 961.1L1318.2 963.4L1323.7 965.6L1329.3 967.9L1334.8 970.2L1340.4 972.5L1346.0 974.7L1351.6 977.0L1357.1 979.3L1362.7 981.5L1368.3 983.8L1373.8 986.1L1379.4 988.3L1385.0 990.6L1390.5 992.9L1396.1 995.1L1401.7 997.4L1407.2 999.7L1412.8 1001.9L1418.4 1004.2L1423.9 1006.5L1429.5 1008.8L1435.1 1011.0L1440.6 1013.3L1446.2 1015.6L1451.7 1017.9L1457.3 1020.2L1462.9 1022.5L1468.4 1024.8L1474.0 1027.0L1479.5 1029.3L1485.1 1031.6L1490.6 1033.9L1496.2 1036.2L1501.7 1038.5L1507.3 1040.8L1512.8 1043.2L1518.4 1045.5L1523.9 1047.8L1529.4 1050.1L1535.0 1052.4L1540.5 1054.7L1546.1 1057.0L1551.6 1059.3L1557.2 1061.6L1562.7 1063.9L1568.3 1066.3L1573.8 1068.6L1579.3 1070.9L1584.9 1073.2L1590.4 1075.5L1596.0 1077.8L1601.5 1080.1L1607.1 1082.5L1612.6 1084.8L1618.1 1087.1L1623.7 1089.4L1629.2 1091.7L1634.8 1094.0L1640.3 1096.3L1645.9 1098.6L1651.4 1100.9L1657.0 1103.2L1662.5 1105.5L1668.1 1107.8L1673.6 1110.1L1679.2 1112.4L1684.7 1114.7L1690.3 1117.0L1695.8 1119.3L1701.4 1121.6L1707.0 1123.8L1712.5 1126.1L1718.1 1128.4L1723.6 1130.7L1729.2 1133.0L1734.8 1135.3L1740.3 1137.5L1745.9 1139.8L1751.4 1142.1L1757.0 1144.4L1762.5 1146.7L1768.1 1149.0L1773.7 1151.3L1779.2 1153.6L1784.7 1155.9L1790.3 1158.2L1795.8 1160.6L1801.4 1162.9L1806.9 1165.3L1812.4 1167.6L1817.9 1170.0L1823.5 1172.4L1829.0 1174.7L1834.5 1177.1L1840.0 1179.6L1845.5 1182.0L1850.9 1184.4L1856.4 1186.9L1861.9 1189.3L1867.4 1191.8L1873.2 1195.0L1879.6 1199.7L1886.0 1204.3L1892.5 1209.0L1899.0 1213.6L1905.4 1218.2L1911.8 1222.9L1918.3 1227.5L1923.9 1232.9L1928.0 1240.0L1932.0 1247.0L1936.0 1254.1L1940.0 1261.1L1944.1 1268.2L1948.1 1275.2L1952.1 1282.3L1955.5 1288.9L1957.5 1294.7L1959.4 1300.5L1961.2 1306.3L1962.9 1312.1L1964.4 1318.0L1965.9 1323.8L1967.3 1329.7L1968.6 1335.6L1969.8 1341.6L1970.9 1347.5L1972.0 1353.5L1972.9 1359.5L1973.8 1365.4L1974.7 1371.4L1975.5 1377.5L1976.3 1383.5L1977.0 1389.5L1977.6 1395.6L1978.3 1401.6L1978.9 1407.7L1979.4 1413.7L1980.0 1419.8L1980.5 1425.9L1981.0 1431.9L1981.6 1438.0L1982.1 1444.1L1982.6 1450.2L1983.1 1456.2L1983.7 1462.3L1984.2 1468.3L1984.8 1474.4L1985.4 1480.4L1986.0 1486.5L1986.7 1492.5L1987.4 1498.5L1988.2 1504.5L1989.0 1510.5L1989.9 1516.5L1990.5 1520.5"/>
<path class="c" stroke="#60D214" stroke-width="11.4" d="M296.9 157.9L299.9 160.6L302.9 163.2L305.9 165.8L308.9 168.5L312.0 171.1L315.0 173.7L318.0 176.3L321.1 178.9L324.1 181.5M351.6 204.9L356.1 208.7L359.2 211.3L362.3 213.9L365.3 216.5L368.4 219.0L371.5 221.6L374.5 224.2L379.1 228.0M407.0 250.9L411.7 254.7L414.8 257.2L417.9 259.7L421.0 262.2L424.2 264.7L427.3 267.2L430.4 269.7L435.1 273.4M462.1 294.3L466.8 298.0L470.0 300.4L473.2 302.8L476.4 305.2L479.6 307.6L482.8 310.0L486.0 312.4L490.9 315.9M518.5 335.9L523.4 339.3L526.7 341.6L530.0 343.9L533.2 346.2L536.5 348.4L539.8 350.7L543.1 352.9L548.1 356.3M574.9 373.9L579.9 377.2L583.3 379.3L586.7 381.4L590.1 383.6L593.5 385.7L596.9 387.8L600.3 389.9L605.4 393.0M632.9 409.5L638.1 412.5L641.5 414.6L645.0 416.6L648.5 418.6L651.9 420.6L655.4 422.6L658.9 424.6L664.0 427.6M690.1 442.7L695.3 445.7L698.8 447.7L702.2 449.7L705.7 451.7L709.1 453.8L712.6 455.8L716.1 457.8L721.2 460.8M747.1 476.2L752.2 479.2L755.7 481.3L759.1 483.3L762.5 485.4L766.0 487.5L769.4 489.5L772.8 491.6L777.9 494.7M807.0 512.4L812.1 515.5L815.5 517.6L819.0 519.7L822.4 521.8L825.8 523.9L829.2 526.0L832.6 528.1L837.7 531.3M864.9 548.2L870.0 551.3L873.4 553.4L876.8 555.5L880.2 557.7L883.6 559.8L887.0 561.9L890.4 564.0L895.5 567.2M922.7 584.3L927.7 587.5L931.1 589.7L934.5 591.8L937.9 594.0L941.2 596.2L944.6 598.4L948.0 600.5L953.0 603.8M980.1 621.0L983.6 623.0L987.0 625.1L990.4 627.1L993.9 629.1L997.4 631.1L1000.9 633.0L1004.4 635.0L1007.9 636.9L1011.4 638.7M1041.9 653.7L1045.5 655.3L1049.2 657.0L1052.8 658.6L1056.5 660.2L1060.1 661.8L1063.8 663.4L1067.5 664.9L1071.2 666.5L1074.9 668.0M1100.9 678.5L1106.5 680.7L1110.2 682.2L1113.9 683.7L1117.7 685.1L1121.4 686.6L1125.1 688.0L1128.9 689.4L1134.4 691.6M1164.4 703.1L1170.0 705.2L1173.8 706.6L1177.5 708.0L1181.3 709.4L1185.0 710.9L1188.8 712.3L1192.5 713.7L1198.1 715.8M1226.3 726.4L1231.9 728.4L1235.7 729.8L1239.4 731.2L1243.2 732.6L1246.9 734.0L1250.7 735.4L1254.4 736.8L1260.0 738.9M1288.2 749.3L1293.8 751.4L1297.6 752.8L1301.4 754.1L1305.1 755.5L1308.9 756.9L1312.6 758.3L1316.4 759.6L1322.0 761.7M1350.3 772.0L1355.9 774.0L1359.7 775.4L1363.4 776.7L1367.2 778.1L1371.0 779.5L1374.7 780.8L1378.5 782.2L1384.1 784.2M1412.5 794.4L1418.1 796.4L1421.9 797.7L1425.7 799.0L1429.5 800.4L1433.3 801.7L1437.1 803.1L1440.8 804.4L1446.4 806.4M1472.9 816.1L1478.5 818.2L1482.2 819.7L1485.9 821.2L1489.6 822.7L1493.3 824.2L1497.0 825.8L1500.7 827.4L1504.3 829.0L1506.2 829.8M1533.2 842.4L1536.9 844.2L1540.4 846.0L1544.0 847.8L1547.6 849.6L1551.1 851.4L1554.7 853.2L1558.2 855.0L1561.8 856.8L1565.4 858.7M1592.0 872.6L1597.2 875.4L1600.8 877.3L1604.3 879.1L1607.9 881.0L1611.5 882.8L1615.0 884.7L1618.6 886.5L1623.9 889.3M1649.0 902.3L1654.3 905.0L1657.8 906.9L1661.4 908.8L1665.0 910.7L1668.5 912.5L1672.0 914.4L1675.6 916.4L1680.8 919.2M1704.4 932.6L1708.7 935.2L1712.1 937.2L1715.5 939.3L1718.9 941.4L1722.3 943.5L1725.7 945.7L1729.0 947.9L1732.4 950.1L1736.5 952.8M1759.2 969.1L1763.2 972.2L1766.3 974.7L1769.4 977.2L1772.5 979.7L1775.6 982.3L1778.6 984.9L1781.6 987.6L1784.6 990.3L1788.2 993.6M1809.6 1015.2L1812.8 1018.9L1815.5 1021.9L1818.1 1025.0L1820.7 1028.0L1823.2 1031.2L1825.7 1034.3L1828.2 1037.5L1830.6 1040.7L1833.6 1044.7M1851.1 1071.5L1853.6 1075.9L1855.6 1079.4L1857.5 1082.9L1859.3 1086.4L1861.1 1090.0L1862.8 1093.6L1864.5 1097.2L1866.2 1100.8L1868.2 1105.4M1881.7 1142.9L1883.2 1147.7L1884.3 1151.5L1885.3 1155.4L1886.4 1159.3L1887.4 1163.2L1888.4 1167.0L1889.4 1170.9L1890.3 1174.9L1891.4 1179.7M1898.9 1217.5L1899.7 1222.3L1900.4 1226.3L1901.1 1230.2L1901.7 1234.2L1902.4 1238.2L1903.0 1242.2L1903.6 1246.1L1904.3 1250.1L1905.0 1255.0M1910.7 1294.6L1911.3 1299.6L1911.9 1303.5L1912.4 1307.5L1912.9 1311.4L1913.4 1315.4L1913.8 1319.4L1914.3 1323.3L1914.8 1327.3L1915.4 1332.3M1919.7 1374.0L1920.2 1379.0L1920.5 1383.0L1920.9 1387.0L1921.3 1391.0L1921.6 1395.0L1922.0 1399.0L1922.3 1402.9L1922.6 1406.9L1923.0 1411.9M1926.2 1453.9L1926.5 1458.9L1926.8 1462.9L1927.0 1466.9L1927.3 1470.9L1927.6 1474.9L1927.8 1478.9L1928.1 1482.9L1928.3 1486.9L1928.6 1491.9M1930.8 1531.9L1931.1 1536.9L1931.3 1540.9L1931.5 1544.9L1931.7 1548.9L1931.9 1552.9L1932.1 1556.9L1932.3 1560.9L1932.5 1564.9L1932.7 1569.9M1934.5 1611.9L1934.7 1616.9L1934.9 1620.9L1935.0 1624.9L1935.2 1628.9L1935.3 1632.9L1935.5 1636.9L1935.6 1640.9L1935.7 1644.9L1935.9 1649.9M1937.3 1689.9L1937.4 1694.9L1937.6 1698.9L1937.7 1702.9L1937.8 1706.9L1937.9 1710.9L1938.0 1714.9L1938.2 1718.9L1938.3 1722.9L1938.4 1727.9M1939.5 1764.0L1939.6 1767.0L1939.6 1769.0L1939.7 1771.0L1939.7 1773.0L1939.8 1775.0L1939.8 1777.0L1939.9 1779.0L1939.9 1781.0L1940.0 1783.0"/>
<path class="c" stroke="#7E2F8E" d="M272.0 180.0V226.0"/><path class="c" stroke="#7E2F8E" d="M272.0 263.0V304.6"/><path class="c" stroke="#7E2F8E" d="M272.0 342.8V383.2"/><path class="c" stroke="#7E2F8E" d="M272.0 422.6V461.9"/><path class="c" stroke="#7E2F8E" d="M272.0 502.4V540.5"/><path class="c" stroke="#7E2F8E" d="M272.0 582.1V604.1"/><path class="c" stroke="#7E2F8E" d="M272.0 661.9V683.9"/><path class="c" stroke="#7E2F8E" d="M272.0 741.7V763.7"/><path class="c" stroke="#7E2F8E" d="M272.0 820.3V842.3"/><path class="c" stroke="#7E2F8E" d="M272.0 899.0V921.0"/><path class="c" stroke="#7E2F8E" d="M272.0 977.6V999.6"/><path class="c" stroke="#7E2F8E" d="M272.0 1056.2V1078.2"/><path class="c" stroke="#7E2F8E" d="M272.0 1134.8V1156.8"/><path class="c" stroke="#7E2F8E" d="M272.0 1213.4V1235.4"/><path class="c" stroke="#7E2F8E" d="M272.0 1292.1V1314.1"/><path class="c" stroke="#7E2F8E" d="M272.0 1370.7V1392.7"/><path class="c" stroke="#7E2F8E" d="M272.0 1449.3V1471.3"/><path class="c" stroke="#7E2F8E" d="M272.0 1527.9V1549.9"/><path class="c" stroke="#7E2F8E" d="M272.0 1606.5V1628.5"/><path class="c" stroke="#7E2F8E" d="M272.0 1672.2V1703.2"/><path class="c" stroke="#7E2F8E" d="M272.0 1738.0V1784.0"/><path class="c" stroke="#0072BD" d="M272.0 201.0V217.0"/><path class="c" stroke="#0072BD" d="M272.0 285.0V299.0"/><path class="c" stroke="#0072BD" d="M272.0 363.0V379.0"/><path class="c" stroke="#0072BD" d="M272.0 440.0V457.0"/><path class="c" stroke="#0072BD" d="M272.0 519.0V532.0"/><path class="c" stroke="#60D214" d="M272.0 92.0V184.0"/><path class="c" stroke="#60D214" d="M272.0 225.0V264.0"/><path class="c" stroke="#60D214" d="M272.0 303.6V343.8"/><path class="c" stroke="#60D214" d="M272.0 382.2V423.6"/><path class="c" stroke="#60D214" d="M272.0 460.9V503.4"/><path class="c" stroke="#60D214" d="M272.0 539.5V583.1"/><path class="c" stroke="#60D214" d="M272.0 618.1V662.9"/><path class="c" stroke="#60D214" d="M272.0 696.7V742.7"/><path class="c" stroke="#60D214" d="M272.0 775.3V821.3"/><path class="c" stroke="#60D214" d="M272.0 854.0V900.0"/><path class="c" stroke="#60D214" d="M272.0 932.6V978.6"/><path class="c" stroke="#60D214" d="M272.0 1011.2V1057.2"/><path class="c" stroke="#60D214" d="M272.0 1089.8V1135.8"/><path class="c" stroke="#60D214" d="M272.0 1168.4V1214.4"/><path class="c" stroke="#60D214" d="M272.0 1247.1V1293.1"/><path class="c" stroke="#60D214" d="M272.0 1325.7V1371.7"/><path class="c" stroke="#60D214" d="M272.0 1404.3V1450.3"/><path class="c" stroke="#60D214" d="M272.0 1482.9V1528.9"/><path class="c" stroke="#60D214" d="M272.0 1561.5V1607.5"/><path class="c" stroke="#60D214" d="M272.0 1640.2V1673.2"/>
</g>
<rect x="1670.5" y="87.5" width="696.0" height="827.2" fill="#fff" stroke="#4a4a4a" stroke-width="3"/>
<path class="c" stroke="#0072BD" stroke-width="12.8" d="M1689.5 137H1881.5"/>
<text class="lg" transform="translate(1896.3 160.0) scale(1 1.03)">LCO-Model</text>
<path class="c" stroke="#0072BD" stroke-width="12.8" stroke-dasharray="38 39" d="M1689.5 217.5H1881.5"/>
<text class="lg" transform="translate(1896.3 240.5) scale(1 1.03)">LCO-Experiment</text>
<path class="c" stroke="#A2142F" stroke-width="12.8" d="M1689.5 299H1881.5"/>
<text class="lg" transform="translate(1896.3 322.0) scale(1 1.03)">LMO-Model</text>
<path class="c" stroke="#A2142F" stroke-width="12.8" stroke-dasharray="38 39" d="M1689.5 380.5H1881.5"/>
<text class="lg" transform="translate(1896.3 403.5) scale(1 1.03)">LMO-Experiment</text>
<path class="c" stroke="#EDB120" stroke-width="12.8" d="M1689.5 461H1881.5"/>
<text class="lg" transform="translate(1896.3 484.0) scale(1 1.03)">NMC-Model</text>
<path class="c" stroke="#EDB120" stroke-width="12.8" stroke-dasharray="38 39" d="M1689.5 542H1881.5"/>
<text class="lg" transform="translate(1896.3 565.0) scale(1 1.03)">NMC-Experiment</text>
<path class="c" stroke="#7E2F8E" stroke-width="12.8" d="M1689.5 622H1881.5"/>
<text class="lg" transform="translate(1896.3 645.0) scale(1 1.03)">LFP-Model</text>
<path class="c" stroke="#7E2F8E" stroke-width="12.8" stroke-dasharray="38 39" d="M1689.5 703H1881.5"/>
<text class="lg" transform="translate(1896.3 726.0) scale(1 1.03)">LFP-Experiment</text>
<path class="c" stroke="#60D214" stroke-width="12.8" d="M1689.5 785H1881.5"/>
<text class="lg" transform="translate(1896.3 808.0) scale(1 1.03)">NCA-Model</text>
<path class="c" stroke="#60D214" stroke-width="12.8" stroke-dasharray="38 39" d="M1689.5 866H1881.5"/>
<text class="lg" transform="translate(1896.3 889.0) scale(1 1.03)">NCA-Experiment</text>
</svg>
</body>
</html>
